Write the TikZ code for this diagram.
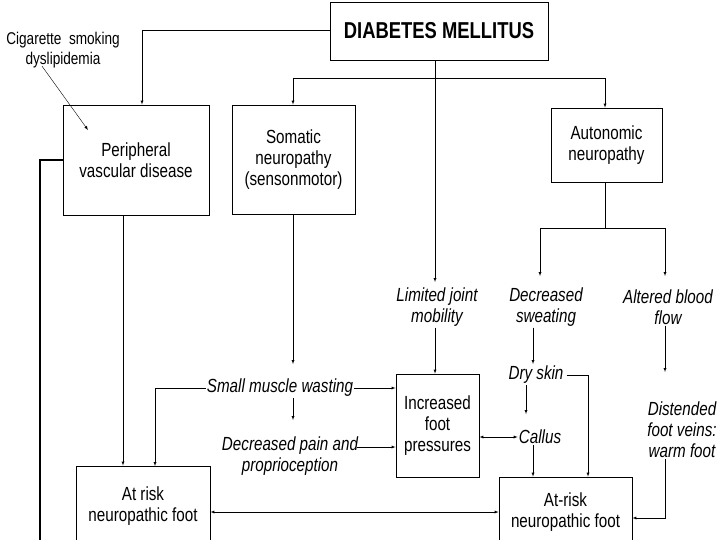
\documentclass[tikz,border=0pt]{standalone}
\usepackage{fontspec}
\setmainfont{Liberation Sans}[FakeStretch=0.8]
\begin{document}
\begin{tikzpicture}[x=1pt,y=-1pt,
  box/.style={draw,thick,align=center,inner sep=0pt,font=\fontsize{19}{21}\selectfont},
  txt/.style={align=center,inner sep=1pt,font=\fontsize{19}{21}\selectfont\itshape},
  ln/.style={thin},
  ar/.style={thin,-latex},
  >=latex]
\useasboundingbox (0,0) rectangle (720,540);
\fill[white] (0,0) rectangle (720,540);
\node[box,minimum width=218pt,minimum height=58pt,font=\fontsize{23}{25}\selectfont\bfseries] (dm) at (439,31) {DIABETES MELLITUS};
\node[box,minimum width=146pt,minimum height=110pt] (pvd) at (136,160) {Peripheral\\vascular disease};
\node[box,minimum width=123pt,minimum height=109pt] (som) at (293.5,159.5) {Somatic\\neuropathy\\(sensonmotor)};
\node[box,minimum width=111pt,minimum height=74pt] (aut) at (606.5,145) {Autonomic\\neuropathy};
\node[box,minimum width=83pt,minimum height=103pt] (ifp) at (437.5,425.5) {Increased\\foot\\pressures};
\node[box,minimum width=134pt,minimum height=80pt] (arl) at (143,506) {At risk\\neuropathic foot};
\node[box,minimum width=133pt,minimum height=70pt] (arr) at (565.5,512) {At-risk\\neuropathic foot};
\node[align=center,inner sep=1pt,font=\fontsize{17}{20}\selectfont] (cig) at (63,50) {Cigarette\ \ smoking\\dyslipidemia};
\node[txt] (ljm) at (437,307) {Limited joint\\mobility};
\node[txt] (ds) at (546,307) {Decreased\\sweating};
\node[txt] (abf) at (668,307) {Altered blood\\flow};
\node[txt] (smw) at (280,388) {Small muscle wasting};
\node[txt] (dpp) at (290,456) {Decreased pain and\\proprioception};
\node[txt] (dry) at (536,375) {Dry skin};
\node[txt] (cal) at (540,437) {Callus};
\node[txt] (dfv) at (682,430) {Distended\\foot veins:\\warm foot};
\coordinate (lb) at (40,540);
% top connections
\draw[ar] (dm.west |- 0,30) -| (pvd.north -| 142,0);
\draw[ln] (293,78) -- (605,78);
\draw[ar] (293,78) -- (som.north -| 293,0);
\draw[ar] (605,78) -- (aut.north -| 605,0);
\draw[ar] (dm.south -| 435,0) -- (435,282);
\draw[ar] (cig.south -| 42,0) ++(0,-3) -- (88,130);
\draw[very thick] (pvd.west |- 0,160) -| (lb);
\draw[ar] (pvd.south -| 123,0) -- (arl.north -| 123,0);
\draw[ar] (som.south -| 293,0) -- (293,364);
\draw[ar] (smw.south -| 293,0) -- (293,420);
\draw[ar] (smw.west) -| (155,466);
\draw[ar] (smw.east) -- (ifp.west |- smw.east);
\draw[ar] (dpp.east |- 0,447) ++(-2,0) -- (ifp.west |- 0,447);
\draw[ar] (ljm.south -| 435,0) -- (ifp.north -| 435,0);
% autonomic
\draw[ln] (aut.south -| 605,0) -- (605,228);
\draw[ln] (540,228) -- (665,228);
\draw[ar] (540,228) -- (540,276);
\draw[ar] (665,228) -- (665,276);
\draw[ar] (ds.south -| 533,0) -- (533,364);
\draw[ar] (dry.south -| 526,0) -- (526,414);
\draw[ar] (dry.east) ++(2,0) -- (588,375) -- (arr.north -| 588,0);
\draw[<->,thin] (ifp.east |- 0,437) -- (cal.west);
\draw[ar] (cal.south -| 533,0) -- (arr.north -| 533,0);
\draw[ar] (abf.south -| 665,0) -- (665,372);
\draw[ar] (dfv.south -| 665,0) -- (665,518) -- (arr.east |- 0,518);
\draw[<->,thin] (arl.east |- 0,512) -- (arr.west |- 0,512);
\end{tikzpicture}
\end{document}
